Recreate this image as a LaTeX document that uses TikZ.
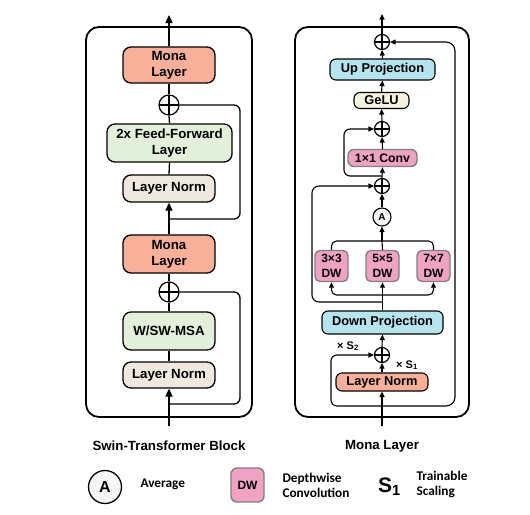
\documentclass[tikz,border=0pt]{standalone}
\usepackage{fontspec}
\setmainfont{Liberation Sans}
\newfontfamily\legendfont{Carlito}
\usetikzlibrary{arrows.meta}

\definecolor{monared}{HTML}{F9B09A}
\definecolor{ffgreen}{HTML}{E2EFDA}
\definecolor{normbeige}{HTML}{EEE8DF}
\definecolor{projblue}{HTML}{B5E3EE}
\definecolor{gelucream}{HTML}{F5F2DF}
\definecolor{dwpink}{HTML}{F0A2C2}
\definecolor{dwgray}{HTML}{808080}
\definecolor{avggray}{HTML}{F5F5F5}

\begin{document}
\begin{tikzpicture}[x=1pt,y=-1pt,
		block/.style={draw, line width=1.3pt, rounded corners=8pt, align=center, inner sep=0pt,
			font=\bfseries\fontsize{13.3}{16}\selectfont},
		rblock/.style={draw, line width=1.1pt, rounded corners=6pt, align=center, inner sep=0pt,
			font=\bfseries\fontsize{12.8}{15}\selectfont},
		dwbox/.style={draw=dwgray, fill=dwpink, line width=1.4pt, rounded corners=5pt, align=center,
			inner sep=0pt, minimum width=33pt, minimum height=31pt, font=\bfseries\fontsize{12}{15}\selectfont},
		oplus/.style={circle, draw, line width=1.2pt, inner sep=0pt, minimum size=#1,
			path picture={\draw[line width=1.2pt] (path picture bounding box.north) -- (path picture bounding box.south)
				(path picture bounding box.west) -- (path picture bounding box.east);}},
		oplus/.default=15pt,
		larr/.style={-{Triangle[length=8pt,width=7pt]}},
		rarr/.style={-{Triangle[length=5.5pt,width=5pt]}},
		title/.style={font=\bfseries\fontsize{13.3}{16}\selectfont},
		legend/.style={font=\legendfont\bfseries\fontsize{13.3}{15}\selectfont, align=left, anchor=west}]
		\useasboundingbox (0,0) rectangle (530,514);
		
		% Swin-Transformer block
		\draw[line width=1.8pt, rounded corners=13pt] (86,27) rectangle (252,417);
		\coordinate (swinIn) at (169,426);
		\coordinate (swinOut) at (169,15);
		\coordinate (resA) at (169,219);
		\coordinate (resB) at (169,404);
		
		\node[block, fill=monared, minimum width=92pt, minimum height=36pt] (monaTop) at (169,65) {Mona\\Layer};
		\node[oplus=20pt] (plusA) at (169,105) {};
		\node[block, fill=ffgreen, minimum width=125pt, minimum height=38pt] (ffn) at (169.5,143) {2x Feed-Forward\\Layer};
		\node[block, fill=normbeige, minimum width=92pt, minimum height=27pt] (normA) at (169,188.5) {Layer Norm};
		\node[block, fill=monared, minimum width=92pt, minimum height=38pt] (monaBot) at (169,254) {Mona\\Layer};
		\node[oplus=20pt] (plusB) at (169,292) {};
		\node[block, fill=ffgreen, minimum width=92pt, minimum height=38pt] (msa) at (169,331) {W/SW-MSA};
		\node[block, fill=normbeige, minimum width=92pt, minimum height=26pt] (normB) at (169,375) {Layer Norm};
		
		% Draw connections
		\begin{scope}[line width=1.3pt]
			\draw[larr] (swinIn) -- (normB.south);
			\draw (normB.north) -- (msa.south);
			\draw (msa.north) -- (plusB.south);
			\draw (plusB.north) -- (monaBot.south);
			\draw[larr] (monaBot.north) -- (normA.south);
			\draw (normA.north) -- (ffn.south);
			\draw (ffn.north) -- (plusA.south);
			\draw (plusA.north) -- (monaTop.south);
			\draw[larr] (monaTop.north) -- (swinOut);
			\draw[rounded corners=6pt] (resB) -- (240,404) -- (240,292) -- (plusB.east);
			\draw[rounded corners=6pt] (resA) -- (240,219) -- (240,105) -- (plusA.east);
		\end{scope}
		\node[title] (swinTitle) at (169,446) {Swin-Transformer Block};
		
		% Mona layer
		\draw[line width=1.8pt, rounded corners=13pt] (295,27) rectangle (469,417);
		\coordinate (monaIn) at (382,426);
		\coordinate (monaOut) at (382,14);
		\coordinate (splitIn) at (382,406);
		\coordinate (skipLow) at (382,302);
		\coordinate (dwSplit) at (382,295);
		\coordinate (dwMerge) at (382,241);
		\coordinate (convSplit) at (382,176);
		
		\node[oplus] (plusTop) at (382,42) {};
		\node[rblock, fill=projblue, minimum width=105pt, minimum height=21pt] (upProj) at (382.5,69.5) {Up Projection};
		\node[rblock, fill=gelucream, minimum width=55pt, minimum height=16pt] (gelu) at (381.5,100.5) {GeLU};
		\node[oplus] (plusMid) at (382,129) {};
		\node[rblock, draw=dwgray, fill=dwpink, line width=1.4pt, minimum width=69pt, minimum height=17pt,
			font=\bfseries\fontsize{12.3}{15}\selectfont] (conv) at (382.5,158) {1×1 Conv};
		\node[oplus] (plusLow) at (382,186) {};
		\node[circle, draw, fill=avggray, line width=1.1pt, inner sep=0pt, minimum size=18pt,
			font=\bfseries\fontsize{10}{12}\selectfont] (avg) at (382,217) {A};
		\node[dwbox] (dw3) at (331.5,266) {3×3\\DW};
		\node[dwbox] (dw5) at (382.5,266) {5×5\\DW};
		\node[dwbox] (dw7) at (433.5,266) {7×7\\DW};
		\node[rblock, fill=projblue, minimum width=121pt, minimum height=23pt] (downProj) at (382.5,322.5) {Down Projection};
		\node[oplus] (plusS) at (382,355) {};
		\node[rblock, fill=monared, minimum width=92pt, minimum height=18pt] (normMona) at (382,382) {Layer Norm};
		\node[font=\bfseries\fontsize{11}{13}\selectfont] (scaleTwo) at (348,346) {× S\textsubscript{2}};
		\node[font=\bfseries\fontsize{11}{13}\selectfont] (scaleOne) at (407,365) {× S\textsubscript{1}};
		
		% Draw connections
		\begin{scope}[line width=1.1pt]
			\draw[rarr] (monaIn) -- (normMona.south);
			\draw[rarr] (normMona.north) -- (plusS.south);
			\draw[rarr] (plusS.north) -- (downProj.south);
			\draw[rarr, rounded corners=6pt] (splitIn) -- (331,406) -- (331,355) -- (plusS.west);
			\draw[rarr, rounded corners=9pt] (splitIn) -- (455,406) -- (455,42) -- (plusTop.east);
			\draw[rarr] (downProj.north) -- (dw5.south);
			\draw[rarr, rounded corners=5pt] (dwSplit) -- (331.5,295) -- (dw3.south);
			\draw[rarr, rounded corners=5pt] (dwSplit) -- (433.5,295) -- (dw7.south);
			\draw[rarr, rounded corners=7pt] (skipLow) -- (312,302) -- (312,186) -- (plusLow.west);
			\draw[rounded corners=5pt] (dw3.north) -- (331.5,241) -- (433.5,241) -- (dw7.north);
			\draw (dw5.north) -- (dwMerge);
			\draw[rarr] (dwMerge) -- (avg.south);
			\draw[rarr] (avg.north) -- (plusLow.south);
			\draw[rarr] (plusLow.north) -- (conv.south);
			\draw[rarr, rounded corners=6pt] (convSplit) -- (344,176) -- (344,129) -- (plusMid.west);
			\draw[rarr] (conv.north) -- (plusMid.south);
			\draw[rarr] (plusMid.north) -- (gelu.south);
			\draw[rarr] (gelu.north) -- (upProj.south);
			\draw[rarr] (upProj.north) -- (plusTop.south);
			\draw[rarr] (plusTop.north) -- (monaOut);
		\end{scope}
		\node[title] (monaTitle) at (382,446) {Mona Layer};
		
		% Legend
		\node[circle, draw, fill=avggray, line width=1.3pt, inner sep=0pt, minimum size=33pt,
			font=\bfseries\fontsize{16}{18}\selectfont] (legAvg) at (105,487) {A};
		\node[legend] (legAvgText) at (137,484) {Average};
		\node[dwbox, minimum width=33pt, minimum height=34pt, rounded corners=6pt] (legDW) at (247.5,485) {DW};
		\node[legend] (legDWText) at (279,485) {Depthwise\\Convolution};
		\node[anchor=west, inner sep=0pt, font=\bfseries\fontsize{21}{22}\selectfont] (legScale) at (378,487)
			{S\textsubscript{1}};
		\node[legend] (legScaleText) at (413,484) {Trainable\\Scaling};
	\end{tikzpicture}
\end{document}
